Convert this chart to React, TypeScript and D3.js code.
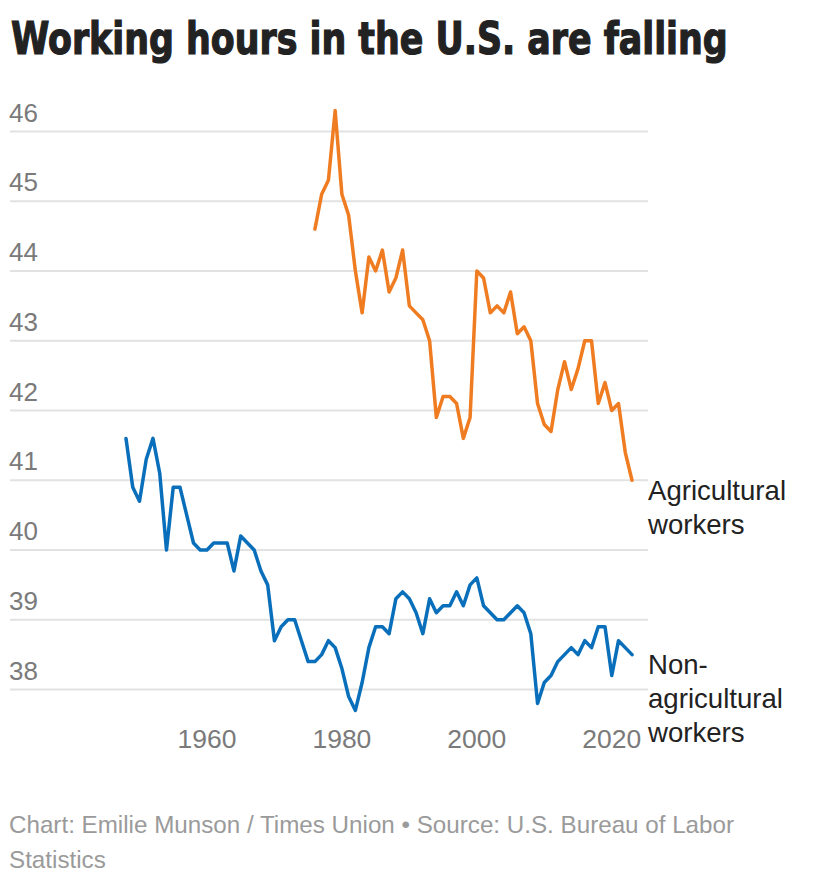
import React, { useEffect, useLayoutEffect, useRef, useState } from "react";
import * as d3 from "d3";

const nonAgYears: number[] = d3.range(1948, 2024);
const nonAgHours: number[] = [
  41.6, 40.9, 40.7, 41.3, 41.6, 41.1, 40.0, 40.9, 40.9, 40.5,
  40.1, 40.0, 40.0, 40.1, 40.1, 40.1, 39.7, 40.2, 40.1, 40.0,
  39.7, 39.5, 38.7, 38.9, 39.0, 39.0, 38.7, 38.4, 38.4, 38.5,
  38.7, 38.6, 38.3, 37.9, 37.7, 38.1, 38.6, 38.9, 38.9, 38.8,
  39.3, 39.4, 39.3, 39.1, 38.8, 39.3, 39.1, 39.2, 39.2, 39.4,
  39.2, 39.5, 39.6, 39.2, 39.1, 39.0, 39.0, 39.1, 39.2, 39.1,
  38.8, 37.8, 38.1, 38.2, 38.4, 38.5, 38.6, 38.5, 38.7, 38.6,
  38.9, 38.9, 38.2, 38.7, 38.6, 38.5,
];

const agYears: number[] = d3.range(1976, 2024);
const agHours: number[] = [
  44.6, 45.1, 45.3, 46.3, 45.1, 44.8, 44.0, 43.4, 44.2, 44.0,
  44.3, 43.7, 43.9, 44.3, 43.5, 43.4, 43.3, 43.0, 41.9, 42.2,
  42.2, 42.1, 41.6, 41.9, 44.0, 43.9, 43.4, 43.5, 43.4, 43.7,
  43.1, 43.2, 43.0, 42.1, 41.8, 41.7, 42.3, 42.7, 42.3, 42.6,
  43.0, 43.0, 42.1, 42.4, 42.0, 42.1, 41.4, 41.0,
];

const yTicks: number[] = [38, 39, 40, 41, 42, 43, 44, 45, 46];
const xTicks: number[] = [1960, 1980, 2000, 2020];

const title = "Working hours in the U.S. are falling";
const agLabel: string[] = ["Agricultural", "workers"];
const nonAgLabel: string[] = ["Non-", "agricultural", "workers"];
const footerLines: string[] = [
  "Chart: Emilie Munson / Times Union \u2022 Source: U.S. Bureau of Labor",
  "Statistics",
];

const W = 820;
const H = 882;
const FONT = "'Liberation Sans', Arial, Helvetica, sans-serif";
const TITLE_WIDTH = 717;

export default function App() {
  const titleRef = useRef<SVGTextElement | null>(null);
  const [titleScale, setTitleScale] = useState(1);

  useEffect(() => {
    document.body.style.margin = "0";
  }, []);

  useLayoutEffect(() => {
    if (titleRef.current) {
      const len = titleRef.current.getComputedTextLength();
      if (len > 0) setTitleScale(TITLE_WIDTH / len);
    }
  }, []);

  const x = d3.scaleLinear().domain([1948, 2023]).range([126, 632]);
  const y = d3.scaleLinear().domain([38, 46]).range([689.5, 131.5]);

  const line = d3
    .line<[number, number]>()
    .x((d) => x(d[0]))
    .y((d) => y(d[1]))
    .curve(d3.curveLinear);

  const nonAgData: [number, number][] = nonAgYears.map((yr, i) => [yr, nonAgHours[i]]);
  const agData: [number, number][] = agYears.map((yr, i) => [yr, agHours[i]]);

  return (
    <svg
      width={W}
      height={H}
      viewBox={`0 0 ${W} ${H}`}
      style={{ display: "block", position: "absolute", left: 0, top: 0, background: "#fff" }}
    >
      <g transform={`translate(11,53.5) scale(${titleScale},1)`}>
        <text
          ref={titleRef}
          x={0}
          y={0}
          fontFamily="'DejaVu Sans Condensed', 'DejaVu Sans', sans-serif"
          fontWeight="bold"
          fontSize={45}
          fill="#222"
          stroke="#222"
          strokeWidth={1.2}
        >
          {title}
        </text>
      </g>

      <g>
        {yTicks.map((t) => (
          <g key={t}>
            <line x1={10} x2={648} y1={y(t)} y2={y(t)} stroke="#e2e2e2" strokeWidth={2} />
            <text x={9} y={y(t) - 10} fontFamily={FONT} fontSize={26} fill="#7a7a7a">
              {t}
            </text>
          </g>
        ))}
      </g>

      <g>
        {xTicks.map((t) => (
          <text
            key={t}
            x={x(t)}
            y={748}
            textAnchor="middle"
            fontFamily={FONT}
            fontSize={26.5}
            fill="#7a7a7a"
          >
            {t}
          </text>
        ))}
      </g>

      <path
        d={line(agData) || ""}
        fill="none"
        stroke="#f07c22"
        strokeWidth={3.5}
        strokeLinejoin="round"
        strokeLinecap="round"
      />
      <path
        d={line(nonAgData) || ""}
        fill="none"
        stroke="#0a6fba"
        strokeWidth={3.5}
        strokeLinejoin="round"
        strokeLinecap="round"
      />

      <g fontFamily={FONT} fontSize={27.6} fill="#222">
        {agLabel.map((s, i) => (
          <text key={s} x={648} y={500 + i * 34}>
            {s}
          </text>
        ))}
        {nonAgLabel.map((s, i) => (
          <text key={s} x={648} y={673.5 + i * 34}>
            {s}
          </text>
        ))}
      </g>

      <g fontFamily={FONT} fontSize={24.2} fill="#9a9a9a">
        {footerLines.map((s, i) => (
          <text key={i} x={9} y={833 + i * 35}>
            {s}
          </text>
        ))}
      </g>
    </svg>
  );
}
